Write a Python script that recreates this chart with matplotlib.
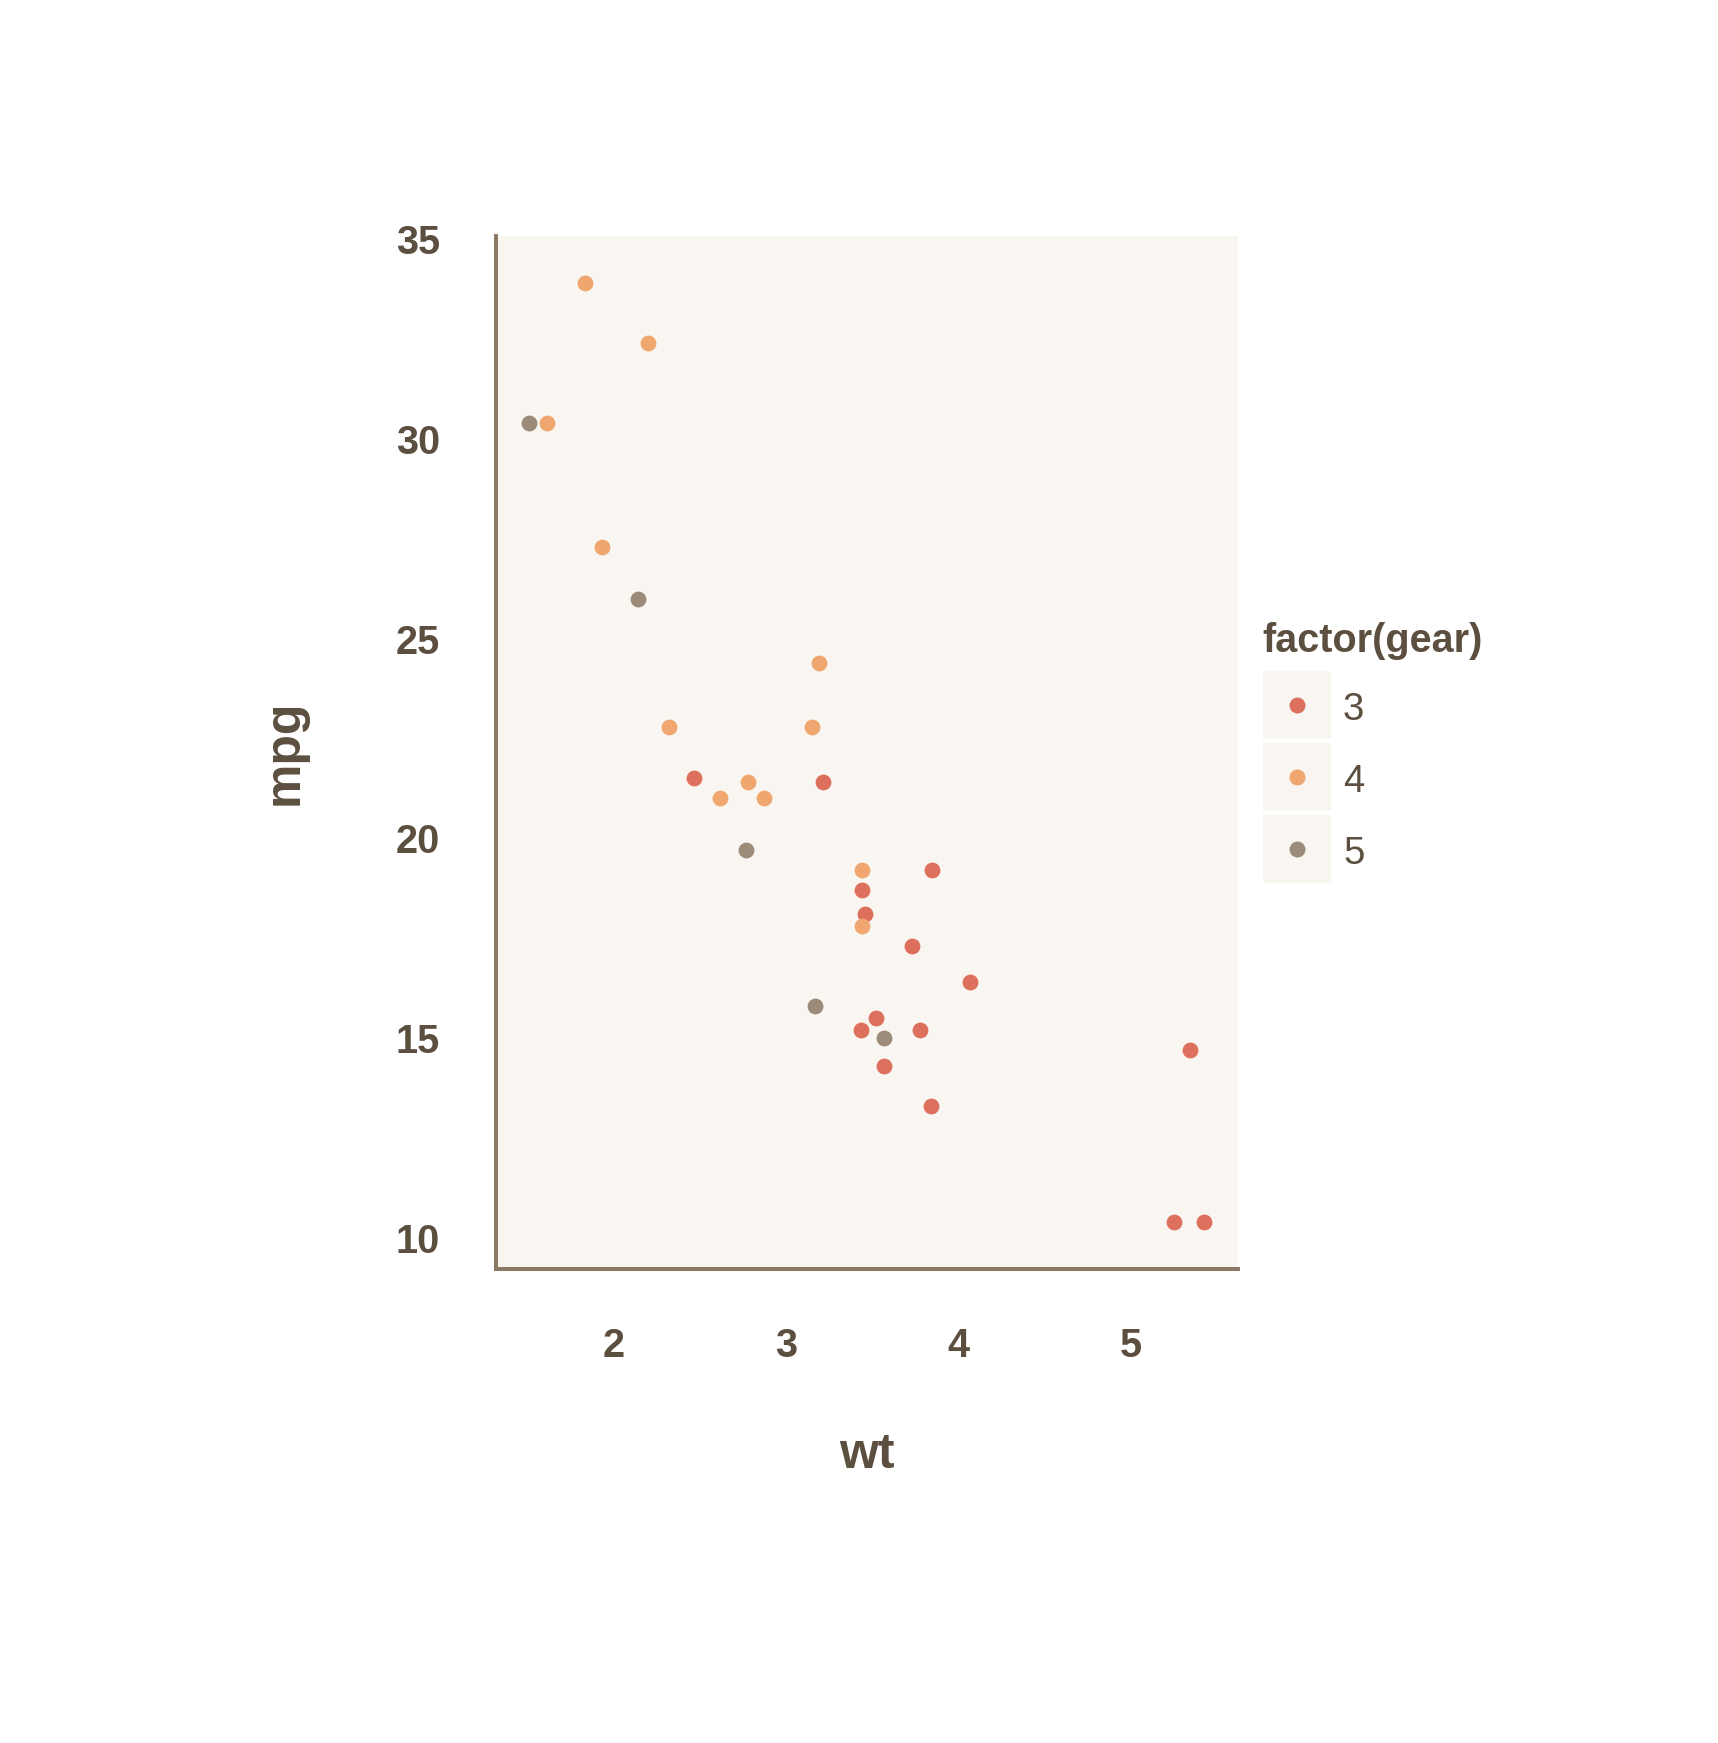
import numpy as np
import matplotlib.pyplot as plt
from matplotlib.patches import Rectangle

plt.rcParams['font.family'] = ['Liberation Sans', 'DejaVu Sans']

# mtcars: weight, miles per gallon, number of gears
wt = [2.620, 2.875, 2.320, 3.215, 3.440, 3.460, 3.570, 3.190, 3.150, 3.440, 3.440,
      4.070, 3.730, 3.780, 5.250, 5.424, 5.345, 2.200, 1.615, 1.835, 2.465, 3.520,
      3.435, 3.840, 3.845, 1.935, 2.140, 1.513, 3.170, 2.770, 3.570, 2.780]
mpg = [21.0, 21.0, 22.8, 21.4, 18.7, 18.1, 14.3, 24.4, 22.8, 19.2, 17.8,
       16.4, 17.3, 15.2, 10.4, 10.4, 14.7, 32.4, 30.4, 33.9, 21.5, 15.5,
       15.2, 13.3, 19.2, 27.3, 26.0, 30.4, 15.8, 19.7, 15.0, 21.4]
gear = [4, 4, 4, 3, 3, 3, 3, 4, 4, 4, 4,
        3, 3, 3, 3, 3, 3, 4, 4, 4, 3, 3,
        3, 3, 3, 4, 5, 5, 5, 5, 5, 4]

gear_levels = [3, 4, 5]
gear_colors = ['#DC705C', '#EFA76F', '#9B8B78']
x_ticks = [2, 3, 4, 5]
y_ticks = [10, 15, 20, 25, 30, 35]

text_col = '#5C4F40'
line_col = '#8C7A64'
panel_bg = '#F9F6F2'

W, H = 1718, 1743
fig = plt.figure(figsize=(W / 100, H / 100), dpi=100)

def fx(px):
    return px / W

def fy(py):
    return 1 - py / H

left, right, top, bottom = 495.7, 1237.7, 236, 1269
ax = fig.add_axes([fx(left), fy(bottom), fx(right) - fx(left), fy(top) - fy(bottom)])
ax.set_facecolor(panel_bg)

wt = np.array(wt)
mpg = np.array(mpg)
gear = np.array(gear)
for g, c in zip(gear_levels, gear_colors):
    m = gear == g
    ax.scatter(wt[m], mpg[m], s=130, color=c, linewidths=0, zorder=3)

# ggplot-style 5% expansion
xr = wt.max() - wt.min()
yr = mpg.max() - mpg.min()
ax.set_xlim(wt.min() - 0.05 * xr, wt.max() + 0.05 * xr)
ax.set_ylim(mpg.min() - 0.05 * yr, mpg.max() + 0.05 * yr)

ax.set_xticks(x_ticks)
ax.set_yticks(y_ticks)
ax.tick_params(length=0, labelsize=28.5, labelcolor=text_col)
ax.tick_params(axis='y', pad=40)
ax.tick_params(axis='x', pad=42)
for lab in ax.get_xticklabels() + ax.get_yticklabels():
    lab.set_fontweight('bold')

for s in ['top', 'right']:
    ax.spines[s].set_visible(False)
for s in ['left', 'bottom']:
    ax.spines[s].set_color(line_col)
    ax.spines[s].set_linewidth(2.9)

ax.set_xlabel('wt', fontsize=36, fontweight='bold', color=text_col)
ax.set_ylabel('mpg', fontsize=36, fontweight='bold', color=text_col)
ax.xaxis.label.set_va('baseline')
ax.xaxis.set_label_coords(0.5, (bottom - 1468) / (bottom - top))
ax.yaxis.set_label_coords((308 - left) / (right - left), 0.5)

# legend
fig.text(fx(1262), fy(652), 'factor(gear)', fontsize=28.5, fontweight='bold',
         color=text_col, ha='left', va='baseline')
key = 68
for i, (g, c) in enumerate(zip(gear_levels, gear_colors)):
    y0 = 671 + i * 72
    fig.patches.append(Rectangle((fx(1263), fy(y0 + key)), fx(key), key / H,
                                 transform=fig.transFigure, facecolor=panel_bg,
                                 edgecolor='none'))
    fig.lines.append(plt.Line2D([fx(1297)], [fy(y0 + key / 2)], marker='o',
                                markersize=11.5, color=c, markeredgewidth=0,
                                transform=fig.transFigure))
    fig.text(fx(1343), fy(y0 + key / 2 + 5), str(g), fontsize=27.5, color=text_col,
             ha='left', va='center')

fig.savefig('out.png', dpi=100, facecolor='white')
